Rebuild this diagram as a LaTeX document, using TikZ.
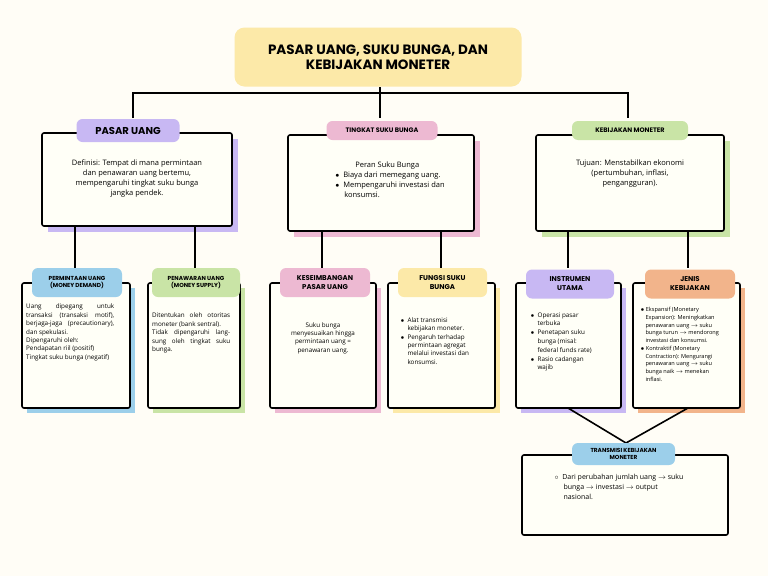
\documentclass[tikz,border=0pt]{standalone}
\usepackage{fontspec}
\setmainfont{Open Sans}
\newfontfamily\hd{Poppins}
\begin{document}
\begin{tikzpicture}[x=1pt,y=-1pt,
 box/.style={draw=black,line width=1.6pt,rounded corners=2pt,fill=white!97!yellow},
 lab/.style={rounded corners=6pt,align=center,font=\hd\bfseries\fontsize{6.5}{7.5}\selectfont,inner sep=2pt},
 txt/.style={align=justify,font=\fontsize{6.5}{8}\selectfont,inner sep=0pt},
 ln/.style={line width=1.6pt}]
\definecolor{bg}{HTML}{FFFDF6}
\definecolor{cy}{HTML}{FCE9A8}
\definecolor{cp}{HTML}{C8B8F3}
\definecolor{ck}{HTML}{EDB9D2}
\definecolor{cg}{HTML}{C9E4A6}
\definecolor{cb}{HTML}{9CCFEA}
\definecolor{co}{HTML}{F2B48B}
\fill[bg] (0,0) rectangle (768,576);
% tree lines
\draw[ln] (380,87)--(380,93);
\draw[ln] (133,118)--(133,93)--(628,93)--(628,118);
\draw[ln] (380,93)--(380,118);
% title
\node[fill=cy,rounded corners=10pt,minimum width=287pt,minimum height=59pt,align=center,font=\hd\bfseries\fontsize{13.5}{15}\selectfont] (title) at (378,57) {PASAR UANG, SUKU BUNGA, DAN\\KEBIJAKAN MONETER};
% main boxes: shadows
\fill[cp] (48,139) rectangle (238,232);
\fill[ck] (294,141) rectangle (480,237);
\fill[cg] (542,141) rectangle (730,237);
\node[box,minimum width=190pt,minimum height=93pt] (m1) at (137,179.5) {};
\node[box,minimum width=186pt,minimum height=96pt] (m2) at (381,183) {};
\node[box,minimum width=188pt,minimum height=96pt] (m3) at (630,183) {};
\node[lab,fill=cp,minimum width=103pt,minimum height=23pt,font=\hd\bfseries\fontsize{10}{11}\selectfont] (l1) at (128,130.5) {PASAR UANG};
\node[lab,fill=ck,minimum width=111pt,minimum height=19pt] (l2) at (382,130.5) {TINGKAT SUKU BUNGA};
\node[lab,fill=cg,minimum width=116pt,minimum height=19pt] (l3) at (630,130.5) {KEBIJAKAN MONETER};
\node[align=center,font=\fontsize{7.5}{10}\selectfont] (t1) at (137,179) {Definisi: Tempat di mana permintaan\\dan penawaran uang bertemu,\\mempengaruhi tingkat suku bunga\\jangka pendek.};
\node[align=left,font=\fontsize{7.5}{10}\selectfont] (t2) at (390,180) {\hspace*{20pt}Peran Suku Bunga\\$\bullet$\ \ Biaya dari memegang uang.\\$\bullet$\ \ Mempengaruhi investasi dan\\\hspace*{9pt}konsumsi.};
\node[align=center,font=\fontsize{7.5}{10}\selectfont] (t3) at (630,174) {Tujuan: Menstabilkan ekonomi\\(pertumbuhan, inflasi,\\pengangguran).};
% connectors to sub
\draw[ln] (75,226)--(75,268); \draw[ln] (195,226)--(195,268);
\draw[ln] (322,231)--(322,268); \draw[ln] (441,231)--(441,268);
\draw[ln] (568,231)--(568,268); \draw[ln] (688,231)--(688,268);
% sub boxes shadows
\fill[cb] (27,288) rectangle (135,413);
\fill[cg] (153,288) rectangle (245,413);
\fill[ck] (275,288) rectangle (381,413);
\fill[cy] (393,288) rectangle (500,413);
\fill[cp] (521,288) rectangle (626,413);
\fill[co] (638,288) rectangle (745,413);
\node[box,minimum width=108pt,minimum height=125pt] (s1) at (76,345.5) {};
\node[box,minimum width=92pt,minimum height=125pt] (s2) at (194,345.5) {};
\node[box,minimum width=106pt,minimum height=125pt] (s3) at (323,345.5) {};
\node[box,minimum width=107pt,minimum height=125pt] (s4) at (441.5,345.5) {};
\node[box,minimum width=105pt,minimum height=125pt] (s5) at (568.5,345.5) {};
\node[box,minimum width=107pt,minimum height=125pt] (s6) at (686.5,345.5) {};
\node[lab,fill=cb,minimum width=90pt,minimum height=29pt,font=\hd\bfseries\fontsize{5.8}{7}\selectfont] (b1) at (77,282.5) {PERMINTAAN UANG\\(MONEY DEMAND)};
\node[lab,fill=cg,minimum width=88pt,minimum height=29pt,font=\hd\bfseries\fontsize{5.8}{7}\selectfont] (b2) at (196,282.5) {PENAWARAN UANG\\(MONEY SUPPLY)};
\node[lab,fill=ck,minimum width=90pt,minimum height=29pt,font=\hd\bfseries\fontsize{7}{9}\selectfont] (b3) at (325,282.5) {KESEIMBANGAN\\PASAR UANG};
\node[lab,fill=cy,minimum width=89pt,minimum height=29pt,font=\hd\bfseries\fontsize{7}{9}\selectfont] (b4) at (442.5,282.5) {FUNGSI SUKU\\BUNGA};
\node[lab,fill=cp,minimum width=88pt,minimum height=29pt,font=\hd\bfseries\fontsize{7}{9}\selectfont] (b5) at (570,284) {INSTRUMEN\\UTAMA};
\node[lab,fill=co,minimum width=90pt,minimum height=29pt,font=\hd\bfseries\fontsize{7}{9}\selectfont] (b6) at (690,284) {JENIS\\KEBIJAKAN};
\node[txt,text width=88pt,font=\fontsize{6.3}{8.4}\selectfont,anchor=north west] (x1) at (26,304) {Uang dipegang untuk transaksi (transaksi motif), berjaga-jaga (precautionary), dan spekulasi.\\Dipengaruhi oleh:\\Pendapatan riil (positif)\\Tingkat suku bunga (negatif)};
\node[txt,text width=78pt,font=\fontsize{6.3}{8.4}\selectfont,anchor=north west] (x2) at (152,313) {Ditentukan oleh otoritas moneter (bank sentral).\\Tidak dipengaruhi langsung oleh tingkat suku bunga.};
\node[align=center,font=\fontsize{6.3}{8.4}\selectfont] (x3) at (323,338) {Suku bunga\\menyesuaikan hingga\\permintaan uang =\\penawaran uang.};
\node[align=left,font=\fontsize{6.3}{8.4}\selectfont,anchor=north west] (x4) at (397,314) {$\bullet$\ \ Alat transmisi\\\hspace*{7pt}kebijakan moneter.\\$\bullet$\ \ Pengaruh terhadap\\\hspace*{7pt}permintaan agregat\\\hspace*{7pt}melalui investasi dan\\\hspace*{7pt}konsumsi.};
\node[align=left,font=\fontsize{6.3}{8.8}\selectfont,anchor=north west] (x5) at (527,309) {$\bullet$\ \ Operasi pasar\\\hspace*{7pt}terbuka\\$\bullet$\ \ Penetapan suku\\\hspace*{7pt}bunga (misal:\\\hspace*{7pt}federal funds rate)\\$\bullet$\ \ Rasio cadangan\\\hspace*{7pt}wajib};
\node[align=left,font=\fontsize{5.6}{7.7}\selectfont,anchor=north west] (x6) at (637,304) {$\bullet$\ Ekspansif (Monetary\\\hspace*{5pt}Expansion): Meningkatkan\\\hspace*{5pt}penawaran uang $\to$ suku\\\hspace*{5pt}bunga turun $\to$ mendorong\\\hspace*{5pt}investasi dan konsumsi.\\$\bullet$\ Kontraktif (Monetary\\\hspace*{5pt}Contraction): Mengurangi\\\hspace*{5pt}penawaran uang $\to$ suku\\\hspace*{5pt}bunga naik $\to$ menekan\\\hspace*{5pt}inflasi.};
% bottom
\coordinate (j) at (626,443);
\draw[ln] (568,408)--(j); \draw[ln] (688,408)--(j);
\node[box,minimum width=206pt,minimum height=80pt] (bt) at (625,495) {};
\node[lab,fill=cb,minimum width=103pt,minimum height=22pt,font=\hd\bfseries\fontsize{5.8}{7}\selectfont] (bl) at (623.5,454) {TRANSMISI KEBIJAKAN\\MONETER};
\node[align=left,font=\fontsize{7}{10}\selectfont,anchor=north west] (bx) at (551,471) {$\circ$\ \ Dari perubahan jumlah uang $\to$ suku\\\hspace*{9pt}bunga $\to$ investasi $\to$ output\\\hspace*{9pt}nasional.};
\end{tikzpicture}
\end{document}
